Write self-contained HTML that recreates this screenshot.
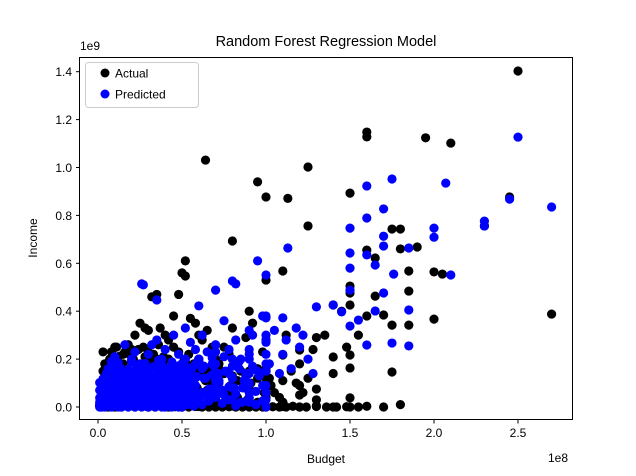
<!DOCTYPE html>
<html><head><meta charset="utf-8"><style>
body{margin:0;background:#fff}
svg{display:block;font-family:"Liberation Sans","DejaVu Sans",sans-serif}
</style></head><body>
<svg id="chart" width="636" height="476" viewBox="0 0 636 476">
<rect width="636" height="476" fill="#fff"/>
<g id="marks"></g>
<rect x="79.5" y="57.5" width="493" height="362" fill="none" stroke="#000" stroke-width="1"/>
<g id="axes"></g>
<text x="326" y="46" font-size="14.5" text-anchor="middle">Random Forest Regression Model</text>
<text x="326" y="463" font-size="12" text-anchor="middle">Budget</text>
<text x="37" y="238" font-size="12" text-anchor="middle" transform="rotate(-90 37 238)">Income</text>
<text x="548" y="462" font-size="12">1e8</text>
<text x="80" y="50" font-size="12">1e9</text>
<g>
<rect x="85.5" y="62.5" width="113" height="45" rx="3" fill="#fff" stroke="#ccc"/>
<circle cx="105" cy="73" r="4.5" fill="#000"/><text x="115" y="77.5" font-size="12">Actual</text>
<circle cx="105" cy="94" r="4.5" fill="#00f"/><text x="115" y="98.5" font-size="12">Predicted</text>
</g>
</svg>
<script>
// values in millions
const actualBudget=[250,160,160,195,210,64,125,95,100,150,113,245,230,125,175,180,80,190,180,160,165,200,205,185,110,52,100,150,150,185,165,200,270,185,175,160,170,150,140,155,150,150,150,175,130,120,140,110,
1,2,3,4,5,6,7,8,10,12,15,18,20,22,25,28,30,32,35,37,40,42,45,48,50,52,55,58,60,62,65,68,70,72,75,78,80,82,85,88,90,92,95,98,100,102,105,108,110,112,115,118,120,122,125,128,130,135,140,145,148,
10,20,30,40,50,60,70,80,90,100,110,120,130,140,150,160,170,180,3,6,9,12,15,18,21,24,27,30,33,36,39,42,45,48,51,54,57,60,63,66,69,72,75,5,11,17,23,29,35,41,47,53,59,65,71,77,83,89,95,15,25,35,45,55,65,100,100,100,90,90,80,80,70,70,
2,6,10,14,18,22,26,30,34,38,42,46,50,54,58,62,66,70,74,78,82,86,90,94,98,104,108,112,116,120,124,130,136,142,148,155,
4,8,12,16,20,24,28,32,36,40,44,48,52,56,3,7,11,15,19,23,27,31,35,39,43,47,51,55,59,63,67,71,75,79,83,87,91,95,99,103,60,64,68,100,100,100,110,110,120,120,130];
const actualIncome=[1403,1148,1128,1124,1102,1031,1002,940,877,893,871,877,756,756,743,743,693,668,660,655,622,564,555,568,568,547,530,505,476,484,463,367,388,342,342,380,384,426,426,300,217,163,38,146,75,238,209,217,
5,20,40,80,120,160,200,230,250,210,180,260,240,300,350,330,320,460,470,330,300,280,380,470,560,610,370,350,300,280,320,250,200,160,250,220,330,180,150,290,400,350,160,230,280,120,60,40,20,300,150,100,180,60,120,240,290,300,140,400,250,
0,5,0,3,0,2,0,4,0,0,2,0,5,0,0,3,0,10,150,170,190,210,220,230,200,240,250,230,220,260,210,200,250,230,190,220,180,200,170,160,150,180,140,60,80,70,90,100,110,120,100,90,80,70,60,50,40,30,20,30,25,15,10,5,60,120,160,40,150,90,130,60,110,30,
0,0,2,0,1,0,3,0,0,2,0,1,0,0,2,0,0,3,0,1,0,0,2,0,0,1,0,0,3,0,0,2,0,0,1,0,
180,200,170,230,190,160,210,180,150,200,170,140,190,160,230,120,250,140,220,180,130,210,200,170,120,160,140,110,150,130,120,100,140,90,110,80,100,120,60,90,130,110,90,40,150,60,20,110,50,90,30];
const predBudget=[250,245,270,230,230,207,175,160,170,160,150,200,200,170,170,160,165,150,150,210,185,176,95,113,100,150,170,185,140,145,130,150,165,155,160,175,185,110,100,80,82,70,26,60,35,
1,2,3,4,5,6,8,10,12,14,16,18,20,22,25,27,28,30,32,35,38,40,42,45,48,50,52,55,58,60,62,65,68,70,72,75,78,80,82,85,88,90,92,95,98,100,102,105,108,110,112,115,118,120,122,125,128,
1,3,5,7,9,11,13,15,17,19,21,23,25,27,29,31,33,35,37,39,41,43,45,47,49,51,53,55,57,59,2,4,6,8,10,12,14,16,18,20,22,24,26,28,30,32,34,36,38,40,42,44,46,48,50,52,54,56,58,60,63,66,69,72,75,78,81,84,87,
1,2,4,6,8,10,12,14,16,18,20,22,24,26,28,30,32,34,36,38,40,42,44,46,48,50,55,60,65,70,75,80,85,90,100,100,100,100,100,90,90,90,80,80,70,70,62,62,
1,5,9,13,17,21,25,29,33,37,41,45,49,53,57,
2,6,10,14,18,22,26,30,34,38,42,46,50,54,58,
1,4,8,12,16,20,24,28,32,36,40,44,48,52,56,
3,7,11,15,19,23,27,31,35,39,43,47,51,55,59,
1,5,9,13,17,21,25,29,33,37,41,45,49,53,57,
2,6,10,14,18,22,26,30,34,38,42,46,50,54,58,
1,4,8,12,16,20,24,28,32,36,40,44,48,52,56,
3,7,11,15,19,23,27,31,35,39,43,47,51,55,59,
5,10,15,20,25,30,35,40,45,50,55,
62,66,70,74,78,82,86,90,94,98,62,66,70,74,78,82,86,90,94,98,64,68,72,76,80,84,88,92,96,100,
90,90,90,90,100,100,100,100,100,80,80,80,70,70,70,
8,13,18,23,28,33,38,43,48,53,58,63,12,20,28,36,44,52,60,68];
const predIncome=[1127,868,835,776,756,935,952,923,827,789,747,747,709,713,672,635,593,643,580,551,664,555,610,664,551,488,476,405,426,397,418,338,401,363,259,267,255,372,372,526,514,488,514,422,447,
10,40,70,100,130,160,190,210,170,140,260,120,200,230,180,510,150,220,260,280,200,240,160,300,220,180,330,270,240,200,300,230,180,260,140,360,240,170,280,200,130,220,300,150,380,270,180,320,140,220,280,160,330,250,300,200,140,
20,50,80,110,140,60,90,120,150,30,70,100,130,60,160,40,90,140,110,70,150,50,120,80,170,100,60,140,110,180,0,30,60,90,120,10,40,80,110,140,20,50,90,130,160,30,70,110,60,150,100,40,130,80,180,50,110,160,90,200,120,60,170,100,210,140,80,190,110,
0,5,0,10,0,5,0,0,10,0,5,0,10,0,5,0,10,0,5,0,0,10,0,5,0,0,20,30,40,60,50,30,20,40,0,90,180,280,380,320,60,240,30,120,90,180,160,60,
5,8,3,6,10,4,7,2,9,5,8,3,6,10,4,
20,24,18,22,26,19,23,21,25,17,22,20,24,18,26,
38,35,40,36,42,34,39,37,41,35,38,40,36,43,37,
52,55,50,56,53,58,51,54,57,50,55,52,58,53,56,
70,68,73,66,72,69,75,71,67,74,70,76,68,73,71,
86,89,84,90,87,92,85,88,91,86,90,87,93,85,89,
102,105,100,107,103,108,101,106,104,110,102,107,105,111,104,
118,121,116,124,119,126,120,123,128,117,125,122,130,119,127,
140,138,145,142,150,139,147,143,152,141,148,
10,25,40,15,30,5,20,35,10,25,60,75,90,70,85,55,80,95,65,90,120,135,110,150,125,160,140,170,130,150,
20,100,140,200,30,60,150,220,300,80,120,200,50,110,230,
160,165,158,170,162,168,175,160,172,165,178,170,185,190,182,195,188,200,192,205];

const X0=98, XS=1.68, Y0=407, YS=0.2395;
const xScale=v=>X0+v*XS, yScale=v=>Y0-v*YS;
const NS='http://www.w3.org/2000/svg';
const marks=document.getElementById('marks');
function drawSeries(bs,is,color,name){
  for(let i=0;i<bs.length;i++){
    const c=document.createElementNS(NS,'circle');
    c.setAttribute('cx',xScale(bs[i]));c.setAttribute('cy',yScale(is[i]));
    c.setAttribute('r',4.6);c.setAttribute('fill',color);
    
    
    marks.appendChild(c);
  }
}
drawSeries(actualBudget,actualIncome,'#000','actual-point');
drawSeries(predBudget,predIncome,'#00f','predicted-point');

const xTicks=[0,50,100,150,200,250], xLabels=['0.0','0.5','1.0','1.5','2.0','2.5'];
const yTicks=[0,200,400,600,800,1000,1200,1400], yLabels=['0.0','0.2','0.4','0.6','0.8','1.0','1.2','1.4'];
const axes=document.getElementById('axes');
xTicks.forEach((t,i)=>{
  const x=xScale(t);
  const l=document.createElementNS(NS,'line');
  l.setAttribute('x1',x);l.setAttribute('x2',x);l.setAttribute('y1',420);l.setAttribute('y2',423.5);l.setAttribute('stroke','#000');
  
  
  axes.appendChild(l);
  const tx=document.createElementNS(NS,'text');
  tx.setAttribute('x',x);tx.setAttribute('y',437);tx.setAttribute('font-size','12');tx.setAttribute('text-anchor','middle');
  tx.textContent=xLabels[i];
  
  
  axes.appendChild(tx);
});
yTicks.forEach((t,i)=>{
  const y=yScale(t);
  const l=document.createElementNS(NS,'line');
  l.setAttribute('x1',76);l.setAttribute('x2',79.5);l.setAttribute('y1',y);l.setAttribute('y2',y);l.setAttribute('stroke','#000');
  
  
  axes.appendChild(l);
  const tx=document.createElementNS(NS,'text');
  tx.setAttribute('x',72);tx.setAttribute('y',y+4.5);tx.setAttribute('font-size','12');tx.setAttribute('text-anchor','end');
  tx.textContent=yLabels[i];
  
  
  axes.appendChild(tx);
});
</script>
</body></html>
